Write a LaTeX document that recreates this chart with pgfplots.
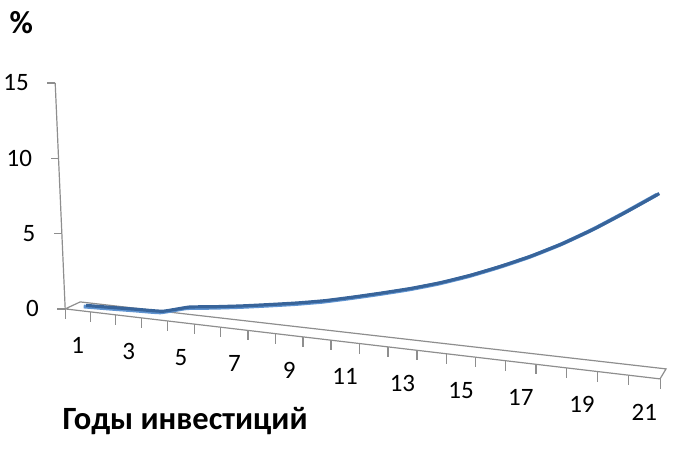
\documentclass[border=0pt]{standalone}
\usepackage{fontspec}
\setmainfont{Carlito}
\usepackage{pgfplots}
\usepackage{pgfplotstable}
\pgfplotsset{compat=1.18}

% year, percent
\pgfplotstableread{
year val
1  0.07
2  0.13
3  0.20
4  0.27
5  0.72
6  0.93
7  1.16
8  1.42
9  1.69
10 2.00
11 2.38
12 2.78
13 3.20
14 3.68
15 4.24
16 4.88
17 5.58
18 6.38
19 7.29
20 8.30
21 9.35
}\seriestab

\pgfplotstableread{
lab val
1 0
3 0
5 0
7 0
9 0
11 0
13 0
15 0
17 0
19 0
21 0
}\yearlabtab

\pgfplotstableread{
i val
0 0
1 0
2 0
3 0
4 0
5 0
6 0
7 0
8 0
9 0
10 0
11 0
12 0
13 0
14 0
15 0
16 0
17 0
18 0
19 0
20 0
21 0
}\floortickstab

\pgfplotstableread{
i v
0 0
0 5
0 10
0 15
}\walltickstab

% position along the floor, the spacing widens to the right (perspective)
\newcommand{\fX}[1]{(25*(#1)+0.159*(#1)*(#1))}
\newcommand{\prx}[3]{(65+\fX{#1}+15*(#2)-0.667*(1-(#1)/10)*(#3))}
\newcommand{\pry}[3]{(309+0.1176*\fX{#1}-7*(#2)-15.07*(1+0.0134*(#1))*(#3))}

\definecolor{axisgray}{HTML}{8E8E8E}
\definecolor{linedark}{HTML}{38649A}
\definecolor{linelight}{HTML}{5F93D0}

\begin{document}
\begin{tikzpicture}
\begin{axis}[
    scale only axis,
    width=682pt, height=456pt,
    xmin=0, xmax=682, ymin=0, ymax=456,
    y dir=reverse,
    hide axis,
    clip=false,
]
% walls and floor
\addplot[axisgray, line width=1.2pt] coordinates {(55,83) (65,309) (660,379) (666,369) (80,302) (65,309)};

% ticks
\addplot[draw=none, mark=none, forget plot,
    error bars/.cd, y dir=plus, y fixed=10,
    error mark=none, error bar style={axisgray, line width=1.2pt}]
    table [x expr={\prx{\thisrow{i}}{0}{0}}, y expr={\pry{\thisrow{i}}{0}{0}}] {\floortickstab};
\addplot[draw=none, mark=none, forget plot,
    error bars/.cd, x dir=minus, x fixed=8,
    error mark=none, error bar style={axisgray, line width=1.2pt}]
    table [x expr={\prx{0}{0}{\thisrow{v}}}, y expr={\pry{0}{0}{\thisrow{v}}}] {\walltickstab};

% series
\addplot[linelight, line width=3.8pt, line join=round, smooth, tension=0.25]
    table [x expr={\prx{\thisrow{year}-0.5}{0.40}{\thisrow{val}}}, y expr={\pry{\thisrow{year}-0.5}{0.40}{\thisrow{val}}}] {\seriestab};
\addplot[linedark, line width=3.2pt, line join=round, smooth, tension=0.25]
    table [x expr={\prx{\thisrow{year}-0.5}{0.56}{\thisrow{val}}}, y expr={\pry{\thisrow{year}-0.5}{0.56}{\thisrow{val}}}] {\seriestab};

% tick labels
\addplot[draw=none, mark=none, forget plot,
    nodes near coords, point meta=explicit symbolic,
    nodes near coords style={anchor=center, font=\fontsize{25}{25}\selectfont, text=black}]
    table [x expr={\prx{\thisrow{lab}-0.5}{0}{0}}, y expr={\pry{\thisrow{lab}-0.5}{0}{0}+35}, meta=lab] {\yearlabtab};
\addplot[draw=none, mark=none, forget plot,
    nodes near coords, point meta=explicit symbolic,
    nodes near coords style={anchor=east, font=\fontsize{25}{25}\selectfont, text=black}]
    table [x expr={\prx{0}{0}{\thisrow{v}}-23}, y expr={\pry{0}{0}{\thisrow{v}}}, meta=v] {\walltickstab};

\node[anchor=center, font=\bfseries\fontsize{32.5}{33}\selectfont] at (axis cs:185,421) {Годы инвестиций};
\node[anchor=center, font=\bfseries\fontsize{32}{32}\selectfont] at (axis cs:21,23) {\%};
\end{axis}
\useasboundingbox (0,0) rectangle (682pt,456pt);
\end{tikzpicture}
\end{document}
